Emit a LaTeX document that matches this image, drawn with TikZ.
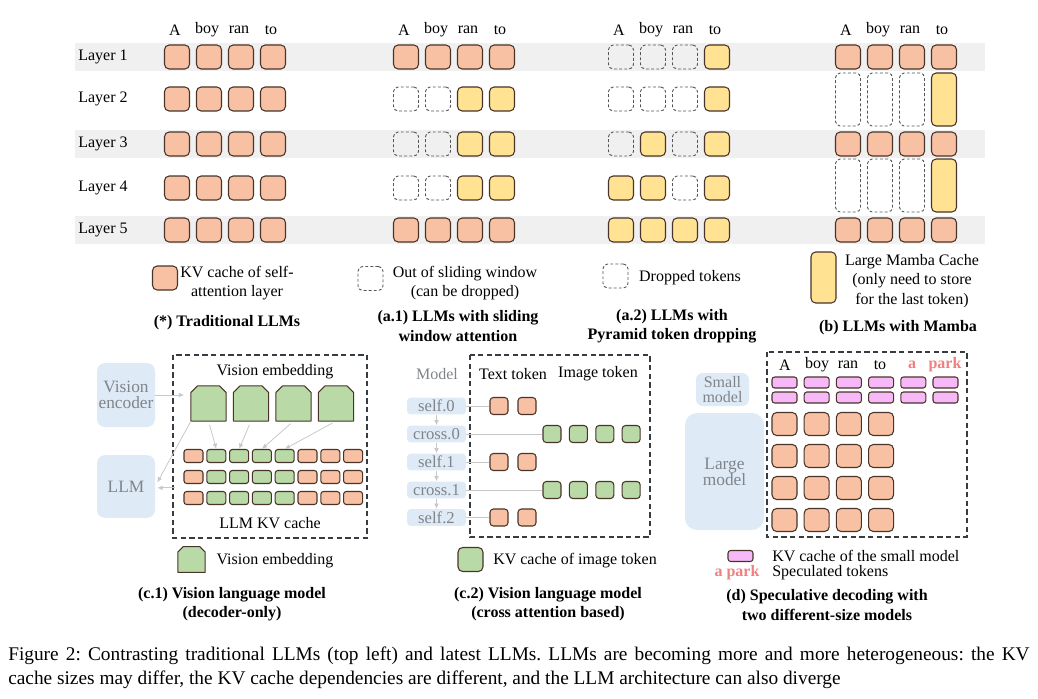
\documentclass[tikz,border=0pt]{standalone}
\usepackage{fontspec}
\setmainfont{Liberation Serif}
\usetikzlibrary{arrows.meta,positioning,calc}
\definecolor{KVOrange}{RGB}{248,193,163}
\definecolor{KVYellow}{RGB}{255,226,146}
\definecolor{KVGreen}{RGB}{185,217,166}
\definecolor{KVPink}{RGB}{246,184,246}
\definecolor{KVEdge}{RGB}{72,52,42}
\definecolor{DropGray}{RGB}{85,85,85}
\definecolor{BandGray}{RGB}{240,240,240}
\definecolor{ModelBlue}{RGB}{222,235,247}
\definecolor{ModelText}{RGB}{128,132,138}
\definecolor{ParkRed}{RGB}{240,128,128}
\definecolor{FrameGray}{RGB}{55,60,66}
\definecolor{FaintGray}{RGB}{200,200,200}
\tikzset{
    kv/.style = {draw=KVEdge, line width=0.8pt, rounded corners=3.5pt,
        minimum width=18.75pt, minimum height=18pt, inner sep=0pt},
    kvo/.style = {kv, fill=KVOrange},
    kvy/.style = {kv, fill=KVYellow},
    kvg/.style = {kv, fill=KVGreen},
    drop/.style = {kv, draw=DropGray, line width=0.7pt, dash pattern=on 2.2pt off 1.6pt},
    tall/.style = {minimum height=39.75pt},
    cell/.style = {rounded corners=2pt, minimum width=14.25pt, minimum height=9.75pt},
    spec/.style = {kv, fill=KVPink, rounded corners=2pt, minimum width=18.75pt, minimum height=8.25pt},
    embox/.style = {minimum width=26pt, minimum height=26pt, inner sep=0pt},
    embshape/.style = {draw=KVEdge, line width=0.8pt, fill=KVGreen, line join=round},
    dashframe/.style = {draw=FrameGray, line width=1pt, dash pattern=on 4pt off 2.5pt},
    modelbox/.style = {fill=ModelBlue, rounded corners=6pt, text=ModelText, align=center,
        inner sep=0pt, font=\fontsize{13}{12}\selectfont},
    faint/.style = {draw=FaintGray, line width=0.6pt},
    arr/.style = {-{Latex[length=4pt,width=3.5pt]}},
    title/.style = {font=\fontsize{12}{14.4}\selectfont\bfseries, align=center},
    park/.style = {text=ParkRed, font=\fontsize{12}{14.4}\selectfont\bfseries}
}
\begin{document}
\frenchspacing
\begin{tikzpicture}[x=0.75pt, y=-0.75pt, font=\fontsize{12}{14.4}\selectfont]
\useasboundingbox (0,0) rectangle (1038,699);
% grey bands behind layers 1, 3 and 5
\foreach \y in {57,144,230}
  \fill[BandGray] (75,\y-14) rectangle (985,\y+14);
\foreach \y [count=\r] in {57,99,144,188,230}
  \node (layer\r) at (103,\y) {Layer \r};
\foreach \x/\p in {177/t,406/sw,621/pd,848/mb}
  \foreach \w [count=\c] in {A,boy,ran,to}
    \node (\p-w\c) at (\x+32*\c-34,30) {\w};

% (*) traditional
\foreach \y [count=\r] in {57,99,144,188,230}
  \foreach \c in {1,...,4}
    \node[kvo] (t-\r-\c) at (177+32*\c-32,\y) {};
% (a.1) sliding window
\foreach \y/\pat [count=\r] in {57/{kvo,kvo,kvo,kvo},99/{drop,drop,kvy,kvy},144/{drop,drop,kvy,kvy},188/{drop,drop,kvy,kvy},230/{kvo,kvo,kvo,kvo}}
  \foreach \st [count=\c] in \pat
    \node[\st] (sw-\r-\c) at (406+32*\c-32,\y) {};
% (a.2) pyramid dropping
\foreach \y/\pat [count=\r] in {57/{drop,drop,drop,kvy},99/{drop,drop,drop,kvy},144/{drop,kvy,drop,kvy},188/{kvy,kvy,drop,kvy},230/{kvy,kvy,kvy,kvy}}
  \foreach \st [count=\c] in \pat
    \node[\st] (pd-\r-\c) at (621+32*\c-32,\y) {};
% (b) mamba
\foreach \y [count=\i] in {57,144,230}
  \foreach \c in {1,...,4}
    \node[kvo] (mb-\i-\c) at (848+32*\c-32,\y) {};
\foreach \y [count=\i] in {99.5,185.5} {
  \foreach \c in {1,2,3}
    \node[drop,tall] (mbd-\i-\c) at (848+32*\c-32,\y) {};
  \node[kvy,tall] (mamba\i) at (944,\y) {};
}

% legends and titles, top row
\node[kvo] (legself) at (165,278) {};
\node[align=center] (legselftxt) at (237,283) {KV cache of self-\\attention layer};
\node[drop] (legwin) at (370.5,278.5) {};
\node[align=center] (legwintxt) at (465,283) {Out of sliding window\\(can be dropped)};
\node[drop] (legdrop) at (615.5,276) {};
\node (legdroptxt) at (690,278) {Dropped tokens};
\node[kvy,minimum height=38.25pt] (legmamba) at (823.5,277.5) {};
\node[align=center] (legmambatxt) at (912,281) {Large Mamba Cache\\(only need to store\\for the last token)};
\node[title] (ttrad) at (227,323) {(*) Traditional LLMs};
\node[title] (tsw) at (458,326) {(a.1) LLMs with sliding\\window attention};
\node[title] (tpd) at (672,326) {(a.2) LLMs with\\Pyramid token dropping};
\node[title] (tmb) at (898,328) {(b) LLMs with Mamba};

% (c.1) decoder-only VLM
\draw[dashframe] (173,355) rectangle (367,538);
\node[modelbox, minimum width=43.5pt, minimum height=48pt] (venc) at (126,395) {Vision\\encoder};
\node[modelbox, minimum width=43.5pt, minimum height=47pt] (llm) at (126,486.5) {LLM};
\node (embtitle) at (275,372) {Vision embedding};
\foreach \i in {1,...,4} {
  \node[embox] (emb\i) at (208.5+42.5*\i-42.5,403.5) {};
  \draw[embshape] (emb\i.south west) -- ([yshift=-5pt]emb\i.north west) -- ([xshift=5pt]emb\i.north west)
    -- ([xshift=-5pt]emb\i.north east) -- ([yshift=-5pt]emb\i.north east) -- (emb\i.south east) -- cycle;
}
\foreach \y/\pat [count=\r] in {456/{kvo,kvg,kvg,kvg,kvg,kvo,kvo,kvo},477/{kvo,kvg,kvg,kvg,kvg,kvo,kvo,kvo},498/{kvo,kvg,kvg,kvg,kvg,kvo,kvo,kvo}}
  \foreach \st [count=\c] in \pat
    \node[\st,cell] (kv-\r-\c) at (193.5+22.8*\c-22.8,\y) {};
\node (kvtitle) at (270,523) {LLM KV cache};
\draw[faint,arr] (venc.east) -- ([xshift=-5pt]venc.east -| emb1.west);
\foreach \i [evaluate=\i as \j using int(\i+1)] in {1,...,4}
  \draw[faint,arr,shorten <=3pt] (emb\i.south) -- (kv-1-\j.north);
\draw[faint,arr] (emb1.south west) -- ([xshift=1.5pt,yshift=3pt]llm.east);
\draw[faint,arr,{Latex[length=4pt,width=3.5pt]}-] ([xshift=1.5pt,yshift=-1pt]llm.east) -- ([xshift=-6pt,yshift=-1pt]llm.east -| kv-2-1.west);
\node[embox, minimum width=20pt, minimum height=19pt] (legemb) at (191.5,559.5) {};
\draw[embshape] (legemb.south west) -- ([yshift=-4pt]legemb.north west) -- ([xshift=4pt]legemb.north west)
  -- ([xshift=-4pt]legemb.north east) -- ([yshift=-4pt]legemb.north east) -- (legemb.south east) -- cycle;
\node (legembtxt) at (275,561) {Vision embedding};
\node[title] (tvlm) at (232,604) {(c.1) Vision language model\\(decoder-only)};

% (c.2) cross attention VLM
\draw[dashframe] (470,355) rectangle (650,537);
\node[text=ModelText] (modeltitle) at (437,374) {Model};
\node (texttok) at (513,374) {Text token};
\node (imgtok) at (598,374) {Image token};
\foreach \nm/\lb/\y in {self0/self.0/406,cross0/cross.0/434,self1/self.1/462,cross1/cross.1/490,self2/self.2/517.5}
  \node[modelbox, rounded corners=2.5pt, minimum width=44pt, minimum height=12.5pt,
    font=\fontsize{12.5}{12}\selectfont] (\nm) at (436.5,\y) {\lb};
\draw[faint,arr] (self0) -- (cross0);
\draw[faint,arr] (cross0) -- (self1);
\draw[faint,arr] (self1) -- (cross1);
\draw[faint,arr] (cross1) -- (self2);
\foreach \nm/\y in {self0/406,self1/462,self2/517.5} {
  \foreach \c in {1,2}
    \node[kvo, minimum width=13.5pt, minimum height=12.75pt, rounded corners=2.5pt] (\nm-\c) at (499+28*\c-28,\y) {};
  \draw[faint] (\nm.east) -- (\nm-1.west);
}
\foreach \nm/\y in {cross0/434,cross1/490} {
  \foreach \c in {1,...,4}
    \node[kvg, minimum width=13.5pt, minimum height=12.75pt, rounded corners=2.5pt] (\nm-\c) at (552+26.4*\c-26.4,\y) {};
  \draw[faint] (\nm.east) -- (\nm-1.west);
}
\node[kvg] (legimg) at (470.5,559.5) {};
\node (legimgtxt) at (575,561) {KV cache of image token};
\node[title] (tcross) at (548,604) {(c.2) Vision language model\\(cross attention based)};

% (d) speculative decoding
\draw[dashframe] (767,352) rectangle (967,537);
\foreach \w/\x in {A/785,boy/817,ran/848,to/880}
  \node (sd-\w) at (\x,365) {\w};
\node[park] (sd-a) at (912,365) {a};
\node[park] (sd-park) at (945,365) {park};
\node[modelbox, rounded corners=5pt, minimum width=39.75pt, minimum height=24.75pt,
  font=\fontsize{12}{11.5}\selectfont] (small) at (722.5,389.5) {Small\\model};
\node[modelbox, rounded corners=9pt, minimum width=59.25pt, minimum height=87.75pt] (large) at (724.5,471.5) {Large\\model};
\foreach \y [count=\r] in {382.5,397.5}
  \foreach \c in {1,...,6}
    \node[spec] (sp-\r-\c) at (784.5+32.2*\c-32.2,\y) {};
\foreach \y [count=\r] in {424,456,488,520}
  \foreach \c in {1,...,4}
    \node[kvo, minimum height=17.25pt] (lg-\r-\c) at (784.5+32.2*\c-32.2,\y) {};
\node[spec] (legspec) at (740.5,556) {};
\node[anchor=west, inner sep=0pt] (legspectxt) at (772,556) {KV cache of the small model};
\node[park, inner sep=0pt] (legpark) at (737,573) {a park};
\node[anchor=west, inner sep=0pt] (legparktxt) at (772,573) {Speculated tokens};
\node[title] (tspec) at (827,605) {(d) Speculative decoding with\\two different-size models};

% caption
\node[anchor=north west, text width=766pt, align=justify, inner sep=0pt,
  font=\fontsize{14.5}{18}\selectfont] (cap) at (8,647)
  {Figure 2: Contrasting traditional LLMs (top left) and latest LLMs. LLMs are becoming more and more heterogeneous: the KV\linebreak cache sizes may differ, the KV cache dependencies are different, and the LLM architecture can also diverge};
\end{tikzpicture}
\end{document}
